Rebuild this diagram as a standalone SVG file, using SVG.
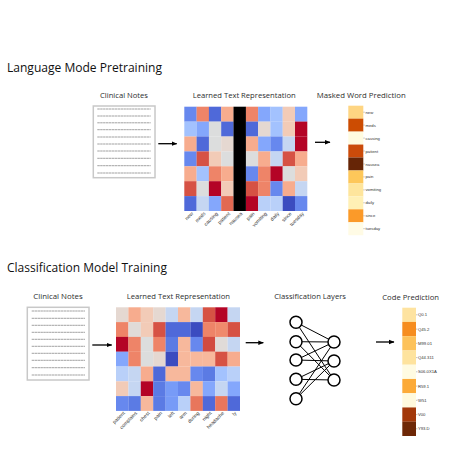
<svg xmlns="http://www.w3.org/2000/svg" width="474" height="474" viewBox="0 0 474 474">
<style>
.title{font-family:"Open Sans","Liberation Sans",sans-serif;font-size:13.5px;fill:#111}
.hdr{font-family:"Open Sans","Liberation Sans",sans-serif;font-size:7.5px;fill:#2e2e2e}
.tick{font-family:"Liberation Sans",Arial,sans-serif;font-size:5px;fill:#333}
.bl{font-family:"Liberation Sans",Arial,sans-serif;font-size:4.2px;fill:#333}
.box{fill:#fff;stroke:#c8c8c8;stroke-width:1.5}
.ln{stroke:#7a7a7a;stroke-width:0.7;stroke-dasharray:2.5 0.4}
.con{stroke:#000;stroke-width:1.3;fill:none}
.nn{fill:#fff;stroke:#000;stroke-width:1.5}
.ne{stroke:#000;stroke-width:1}
.tk{stroke:#666;stroke-width:0.4}
</style>
<defs>
<marker id="ah" markerWidth="6" markerHeight="6" refX="5" refY="3" orient="auto" markerUnits="userSpaceOnUse">
<path d="M0,0.8 L5.5,3 L0,5.2 Z" fill="#000"/>
</marker>
</defs>
<rect width="474" height="474" fill="#fff"/>

<text class="title" x="7" y="71.5" textLength="155" lengthAdjust="spacingAndGlyphs">Language Mode Pretraining</text>
<text class="title" x="7" y="272" textLength="160" lengthAdjust="spacingAndGlyphs">Classification Model Training</text>

<g id="notes1">
<text class="hdr" x="100" y="98.3" textLength="48" lengthAdjust="spacingAndGlyphs">Clinical Notes</text>
<rect class="box" x="93.3" y="106" width="61.7" height="71.7"/>
<g class="ln">
<line x1="97.3" y1="109" x2="150.7" y2="109"/><line x1="97.3" y1="116" x2="150.7" y2="116"/><line x1="97.3" y1="122.8" x2="150.7" y2="122.8"/><line x1="97.3" y1="129.7" x2="150.7" y2="129.7"/><line x1="97.3" y1="137" x2="150.7" y2="137"/><line x1="97.3" y1="144" x2="150.7" y2="144"/><line x1="97.3" y1="151" x2="150.7" y2="151"/><line x1="97.3" y1="158.3" x2="150.7" y2="158.3"/><line x1="97.3" y1="165.7" x2="150.7" y2="165.7"/><line x1="97.3" y1="173" x2="150.7" y2="173"/>
</g>
</g>

<g id="heatmap1">
<text class="hdr" x="192.7" y="98.3" textLength="103" lengthAdjust="spacingAndGlyphs">Learned Text Representation</text>
<g>
<rect x="184.3" y="106.7" width="12.4" height="15" fill="#6788ee"/><rect x="196.6" y="106.7" width="12.4" height="15" fill="#ee8468"/><rect x="208.9" y="106.7" width="12.4" height="15" fill="#4f69d9"/><rect x="221.2" y="106.7" width="12.4" height="15" fill="#f7ac8e"/><rect x="245.8" y="106.7" width="12.4" height="15" fill="#ee8468"/><rect x="258.1" y="106.7" width="12.4" height="15" fill="#84a7fc"/><rect x="270.4" y="106.7" width="12.4" height="15" fill="#a3c2fe"/><rect x="282.7" y="106.7" width="12.4" height="15" fill="#f2cbb7"/><rect x="295" y="106.7" width="12.3" height="15" fill="#84a7fc"/>
<rect x="184.3" y="121.6" width="12.4" height="15" fill="#a3c2fe"/><rect x="196.6" y="121.6" width="12.4" height="15" fill="#84a7fc"/><rect x="208.9" y="121.6" width="12.4" height="15" fill="#dcdddd"/><rect x="221.2" y="121.6" width="12.4" height="15" fill="#4f69d9"/><rect x="245.8" y="121.6" width="12.4" height="15" fill="#4f69d9"/><rect x="258.1" y="121.6" width="12.4" height="15" fill="#e5d8d1"/><rect x="270.4" y="121.6" width="12.4" height="15" fill="#a3c2fe"/><rect x="282.7" y="121.6" width="12.4" height="15" fill="#f2cbb7"/><rect x="295" y="121.6" width="12.3" height="15" fill="#b40426"/>
<rect x="184.3" y="136.5" width="12.4" height="15" fill="#f7ac8e"/><rect x="196.6" y="136.5" width="12.4" height="15" fill="#4f69d9"/><rect x="208.9" y="136.5" width="12.4" height="15" fill="#dcdddd"/><rect x="221.2" y="136.5" width="12.4" height="15" fill="#e5d8d1"/><rect x="245.8" y="136.5" width="12.4" height="15" fill="#f7ac8e"/><rect x="258.1" y="136.5" width="12.4" height="15" fill="#84a7fc"/><rect x="270.4" y="136.5" width="12.4" height="15" fill="#6788ee"/><rect x="282.7" y="136.5" width="12.4" height="15" fill="#c5d6f2"/><rect x="295" y="136.5" width="12.3" height="15" fill="#b40426"/>
<rect x="184.3" y="151.4" width="12.4" height="15" fill="#6788ee"/><rect x="196.6" y="151.4" width="12.4" height="15" fill="#d65244"/><rect x="208.9" y="151.4" width="12.4" height="15" fill="#f2cbb7"/><rect x="221.2" y="151.4" width="12.4" height="15" fill="#dcdddd"/><rect x="245.8" y="151.4" width="12.4" height="15" fill="#dcdddd"/><rect x="258.1" y="151.4" width="12.4" height="15" fill="#f7ac8e"/><rect x="270.4" y="151.4" width="12.4" height="15" fill="#c5d6f2"/><rect x="282.7" y="151.4" width="12.4" height="15" fill="#d65244"/><rect x="295" y="151.4" width="12.3" height="15" fill="#f7ac8e"/>
<rect x="184.3" y="166.3" width="12.4" height="15" fill="#f7ac8e"/><rect x="196.6" y="166.3" width="12.4" height="15" fill="#a3c2fe"/><rect x="208.9" y="166.3" width="12.4" height="15" fill="#ee8468"/><rect x="221.2" y="166.3" width="12.4" height="15" fill="#f7ac8e"/><rect x="245.8" y="166.3" width="12.4" height="15" fill="#6788ee"/><rect x="258.1" y="166.3" width="12.4" height="15" fill="#ee8468"/><rect x="270.4" y="166.3" width="12.4" height="15" fill="#b40426"/><rect x="282.7" y="166.3" width="12.4" height="15" fill="#dcdddd"/><rect x="295" y="166.3" width="12.3" height="15" fill="#f2cbb7"/>
<rect x="184.3" y="181.2" width="12.4" height="15" fill="#d65244"/><rect x="196.6" y="181.2" width="12.4" height="15" fill="#dcdddd"/><rect x="208.9" y="181.2" width="12.4" height="15" fill="#b40426"/><rect x="221.2" y="181.2" width="12.4" height="15" fill="#f2cbb7"/><rect x="245.8" y="181.2" width="12.4" height="15" fill="#d65244"/><rect x="258.1" y="181.2" width="12.4" height="15" fill="#ee8468"/><rect x="270.4" y="181.2" width="12.4" height="15" fill="#6788ee"/><rect x="282.7" y="181.2" width="12.4" height="15" fill="#f7ac8e"/><rect x="295" y="181.2" width="12.3" height="15" fill="#c5d6f2"/>
<rect x="184.3" y="196.1" width="12.4" height="14.9" fill="#4f69d9"/><rect x="196.6" y="196.1" width="12.4" height="14.9" fill="#c5d6f2"/><rect x="208.9" y="196.1" width="12.4" height="14.9" fill="#84a7fc"/><rect x="221.2" y="196.1" width="12.4" height="14.9" fill="#e26952"/><rect x="245.8" y="196.1" width="12.4" height="14.9" fill="#b40426"/><rect x="258.1" y="196.1" width="12.4" height="14.9" fill="#b9d0f9"/><rect x="270.4" y="196.1" width="12.4" height="14.9" fill="#b9d0f9"/><rect x="282.7" y="196.1" width="12.4" height="14.9" fill="#3b4cc0"/><rect x="295" y="196.1" width="12.3" height="14.9" fill="#6788ee"/>
<rect x="233.5" y="106.7" width="12.4" height="104.3" fill="#000"/>
</g>
<g class="tick" text-anchor="end">
<text transform="translate(193.5,214) rotate(-45)">new</text>
<text transform="translate(205.8,214) rotate(-45)">meds</text>
<text transform="translate(218.1,214) rotate(-45)">causing</text>
<text transform="translate(230.4,214) rotate(-45)">patient</text>
<text transform="translate(242.7,214) rotate(-45)">nausea</text>
<text transform="translate(255,214) rotate(-45)">pain</text>
<text transform="translate(267.3,214) rotate(-45)">vomiting</text>
<text transform="translate(279.6,214) rotate(-45)">daily</text>
<text transform="translate(291.9,214) rotate(-45)">since</text>
<text transform="translate(304.2,214) rotate(-45)">tuesday</text>
</g>
</g>

<g id="masked">
<text class="hdr" x="316.7" y="98.3" textLength="89" lengthAdjust="spacingAndGlyphs">Masked Word Prediction</text>
<rect x="348.3" y="105.7" width="15" height="13" fill="#fed582"/>
<rect x="348.3" y="118.65" width="15" height="13" fill="#cc4c02"/>
<rect x="348.3" y="131.6" width="15" height="13" fill="#fffbe0"/>
<rect x="348.3" y="144.55" width="15" height="13" fill="#cb4b0a"/>
<rect x="348.3" y="157.5" width="15" height="13" fill="#662506"/>
<rect x="348.3" y="170.45" width="15" height="13" fill="#fdc75a"/>
<rect x="348.3" y="183.4" width="15" height="13" fill="#fee59c"/>
<rect x="348.3" y="196.35" width="15" height="13" fill="#fff0b5"/>
<rect x="348.3" y="209.3" width="15" height="13" fill="#fb9a29"/>
<rect x="348.3" y="222.25" width="15" height="13" fill="#fffbe5"/>
<g class="tk">
<line x1="363.3" y1="112.2" x2="364.8" y2="112.2"/><line x1="363.3" y1="125.1" x2="364.8" y2="125.1"/><line x1="363.3" y1="138.1" x2="364.8" y2="138.1"/><line x1="363.3" y1="151" x2="364.8" y2="151"/><line x1="363.3" y1="164" x2="364.8" y2="164"/><line x1="363.3" y1="176.9" x2="364.8" y2="176.9"/><line x1="363.3" y1="189.9" x2="364.8" y2="189.9"/><line x1="363.3" y1="202.8" x2="364.8" y2="202.8"/><line x1="363.3" y1="215.8" x2="364.8" y2="215.8"/><line x1="363.3" y1="228.7" x2="364.8" y2="228.7"/>
</g>
<g class="bl">
<text x="365.5" y="113.7">new</text>
<text x="365.5" y="126.6">meds</text>
<text x="365.5" y="139.6">causing</text>
<text x="365.5" y="152.5">patient</text>
<text x="365.5" y="165.5">nausea</text>
<text x="365.5" y="178.4">pain</text>
<text x="365.5" y="191.4">vomiting</text>
<text x="365.5" y="204.3">daily</text>
<text x="365.5" y="217.3">since</text>
<text x="365.5" y="230.2">tuesday</text>
</g>
</g>

<g id="notes2">
<text class="hdr" x="33.3" y="299.3" textLength="49.4" lengthAdjust="spacingAndGlyphs">Clinical Notes</text>
<rect class="box" x="27.3" y="307.3" width="61.7" height="72.7"/>
<g class="ln">
<line x1="31.7" y1="311" x2="85" y2="311"/><line x1="31.7" y1="318.3" x2="85" y2="318.3"/><line x1="31.7" y1="325.3" x2="85" y2="325.3"/><line x1="31.7" y1="332.3" x2="85" y2="332.3"/><line x1="31.7" y1="339.3" x2="85" y2="339.3"/><line x1="31.7" y1="346.3" x2="85" y2="346.3"/><line x1="31.7" y1="353.3" x2="85" y2="353.3"/><line x1="31.7" y1="360.3" x2="85" y2="360.3"/><line x1="31.7" y1="367.7" x2="85" y2="367.7"/><line x1="31.7" y1="375" x2="85" y2="375"/>
</g>
</g>

<g id="heatmap2">
<text class="hdr" x="126.7" y="299.3" textLength="103.3" lengthAdjust="spacingAndGlyphs">Learned Text Representation</text>
<g>
<rect x="116" y="307.3" width="12.5" height="14.9" fill="#e5d8d1"/><rect x="128.4" y="307.3" width="12.5" height="14.9" fill="#f7ac8e"/><rect x="140.8" y="307.3" width="12.5" height="14.9" fill="#f2cbb7"/><rect x="153.2" y="307.3" width="12.5" height="14.9" fill="#e5d8d1"/><rect x="165.6" y="307.3" width="12.5" height="14.9" fill="#c5d6f2"/><rect x="178" y="307.3" width="12.5" height="14.9" fill="#f7b89c"/><rect x="190.4" y="307.3" width="12.5" height="14.9" fill="#c5d6f2"/><rect x="202.8" y="307.3" width="12.5" height="14.9" fill="#d65244"/><rect x="215.2" y="307.3" width="12.5" height="14.9" fill="#b40426"/><rect x="227.6" y="307.3" width="12.4" height="14.9" fill="#c5d6f2"/>
<rect x="116" y="322.1" width="12.5" height="14.9" fill="#ee8468"/><rect x="128.4" y="322.1" width="12.5" height="14.9" fill="#e0dbd8"/><rect x="140.8" y="322.1" width="12.5" height="14.9" fill="#f2cbb7"/><rect x="153.2" y="322.1" width="12.5" height="14.9" fill="#d65244"/><rect x="165.6" y="322.1" width="12.5" height="14.9" fill="#4f69d9"/><rect x="178" y="322.1" width="12.5" height="14.9" fill="#4f69d9"/><rect x="190.4" y="322.1" width="12.5" height="14.9" fill="#3b4cc0"/><rect x="202.8" y="322.1" width="12.5" height="14.9" fill="#ee8468"/><rect x="215.2" y="322.1" width="12.5" height="14.9" fill="#f08a6c"/><rect x="227.6" y="322.1" width="12.4" height="14.9" fill="#d65244"/>
<rect x="116" y="336.9" width="12.5" height="14.9" fill="#b40426"/><rect x="128.4" y="336.9" width="12.5" height="14.9" fill="#ee8468"/><rect x="140.8" y="336.9" width="12.5" height="14.9" fill="#dcdddd"/><rect x="153.2" y="336.9" width="12.5" height="14.9" fill="#ee8468"/><rect x="165.6" y="336.9" width="12.5" height="14.9" fill="#5b7be4"/><rect x="178" y="336.9" width="12.5" height="14.9" fill="#f7b89c"/><rect x="190.4" y="336.9" width="12.5" height="14.9" fill="#6788ee"/><rect x="202.8" y="336.9" width="12.5" height="14.9" fill="#d24b40"/><rect x="215.2" y="336.9" width="12.5" height="14.9" fill="#e0dbd8"/><rect x="227.6" y="336.9" width="12.4" height="14.9" fill="#c5d6f2"/>
<rect x="116" y="351.7" width="12.5" height="14.9" fill="#84a7fc"/><rect x="128.4" y="351.7" width="12.5" height="14.9" fill="#ee8468"/><rect x="140.8" y="351.7" width="12.5" height="14.9" fill="#dcdddd"/><rect x="153.2" y="351.7" width="12.5" height="14.9" fill="#e5d8d1"/><rect x="165.6" y="351.7" width="12.5" height="14.9" fill="#3b4cc0"/><rect x="178" y="351.7" width="12.5" height="14.9" fill="#f7b89c"/><rect x="190.4" y="351.7" width="12.5" height="14.9" fill="#f7b89c"/><rect x="202.8" y="351.7" width="12.5" height="14.9" fill="#f7b89c"/><rect x="215.2" y="351.7" width="12.5" height="14.9" fill="#d65244"/><rect x="227.6" y="351.7" width="12.4" height="14.9" fill="#f7ac8e"/>
<rect x="116" y="366.5" width="12.5" height="14.9" fill="#b9d0f9"/><rect x="128.4" y="366.5" width="12.5" height="14.9" fill="#c5d6f2"/><rect x="140.8" y="366.5" width="12.5" height="14.9" fill="#f7ac8e"/><rect x="153.2" y="366.5" width="12.5" height="14.9" fill="#4f69d9"/><rect x="165.6" y="366.5" width="12.5" height="14.9" fill="#f7b89c"/><rect x="178" y="366.5" width="12.5" height="14.9" fill="#f7b89c"/><rect x="190.4" y="366.5" width="12.5" height="14.9" fill="#6788ee"/><rect x="202.8" y="366.5" width="12.5" height="14.9" fill="#5b7be4"/><rect x="215.2" y="366.5" width="12.5" height="14.9" fill="#a3c2fe"/><rect x="227.6" y="366.5" width="12.4" height="14.9" fill="#b9d0f9"/>
<rect x="116" y="381.3" width="12.5" height="14.9" fill="#f2cbb7"/><rect x="128.4" y="381.3" width="12.5" height="14.9" fill="#c5d6f2"/><rect x="140.8" y="381.3" width="12.5" height="14.9" fill="#b40426"/><rect x="153.2" y="381.3" width="12.5" height="14.9" fill="#5b7be4"/><rect x="165.6" y="381.3" width="12.5" height="14.9" fill="#779bf7"/><rect x="178" y="381.3" width="12.5" height="14.9" fill="#6788ee"/><rect x="190.4" y="381.3" width="12.5" height="14.9" fill="#f7b89c"/><rect x="202.8" y="381.3" width="12.5" height="14.9" fill="#84a7fc"/><rect x="215.2" y="381.3" width="12.5" height="14.9" fill="#c5d6f2"/><rect x="227.6" y="381.3" width="12.4" height="14.9" fill="#84a7fc"/>
<rect x="116" y="396.1" width="12.5" height="14.8" fill="#6788ee"/><rect x="128.4" y="396.1" width="12.5" height="14.8" fill="#5b7be4"/><rect x="140.8" y="396.1" width="12.5" height="14.8" fill="#f7b89c"/><rect x="153.2" y="396.1" width="12.5" height="14.8" fill="#5b7be4"/><rect x="165.6" y="396.1" width="12.5" height="14.8" fill="#779bf7"/><rect x="178" y="396.1" width="12.5" height="14.8" fill="#b9d0f9"/><rect x="190.4" y="396.1" width="12.5" height="14.8" fill="#e8765c"/><rect x="202.8" y="396.1" width="12.5" height="14.8" fill="#4f69d9"/><rect x="215.2" y="396.1" width="12.5" height="14.8" fill="#e8765c"/><rect x="227.6" y="396.1" width="12.4" height="14.8" fill="#4f69d9"/>
</g>
<g class="tick" text-anchor="end">
<text transform="translate(125.2,413.5) rotate(-45)">patient</text>
<text transform="translate(137.6,413.5) rotate(-45)">complains</text>
<text transform="translate(150,413.5) rotate(-45)">chest</text>
<text transform="translate(162.4,413.5) rotate(-45)">pain</text>
<text transform="translate(174.8,413.5) rotate(-45)">left</text>
<text transform="translate(187.2,413.5) rotate(-45)">arm</text>
<text transform="translate(199.6,413.5) rotate(-45)">during</text>
<text transform="translate(212,413.5) rotate(-45)">night</text>
<text transform="translate(224.4,413.5) rotate(-45)">headache</text>
<text transform="translate(236.8,413.5) rotate(-45)">ly</text>
</g>
</g>

<g id="layers">
<text class="hdr" x="274.3" y="299.3" textLength="71.7" lengthAdjust="spacingAndGlyphs">Classification Layers</text>
<g class="ne">
<line x1="296" y1="322.3" x2="334" y2="342"/><line x1="296" y1="322.3" x2="334" y2="380"/>
<line x1="296" y1="341.7" x2="334" y2="342"/><line x1="296" y1="341.7" x2="334" y2="380"/>
<line x1="296" y1="360" x2="334" y2="342"/><line x1="296" y1="360" x2="334" y2="361"/>
<line x1="296" y1="379.3" x2="334" y2="361"/><line x1="296" y1="379.3" x2="334" y2="380"/>
<line x1="296" y1="398.7" x2="334" y2="361"/><line x1="296" y1="398.7" x2="334" y2="342"/>
</g>
<g class="nn">
<circle cx="296" cy="322.3" r="6"/><circle cx="296" cy="341.7" r="6"/><circle cx="296" cy="360" r="6"/><circle cx="296" cy="379.3" r="6"/><circle cx="296" cy="398.7" r="6"/>
<circle cx="334" cy="342" r="6"/><circle cx="334" cy="361" r="6"/><circle cx="334" cy="380" r="6"/>
</g>
</g>

<g id="codes">
<text class="hdr" x="382.3" y="300" textLength="56.7" lengthAdjust="spacingAndGlyphs">Code Prediction</text>
<rect x="402.3" y="307.7" width="13.7" height="14.3" fill="#fee3a0"/>
<rect x="402.3" y="321.95" width="13.7" height="14.3" fill="#f68d1f"/>
<rect x="402.3" y="336.2" width="13.7" height="14.3" fill="#fdc25a"/>
<rect x="402.3" y="350.45" width="13.7" height="14.3" fill="#fee39e"/>
<rect x="402.3" y="364.7" width="13.7" height="14.3" fill="#fffbe2"/>
<rect x="402.3" y="378.95" width="13.7" height="14.3" fill="#fcaa38"/>
<rect x="402.3" y="393.2" width="13.7" height="14.3" fill="#fff9dd"/>
<rect x="402.3" y="407.45" width="13.7" height="14.3" fill="#a3380a"/>
<rect x="402.3" y="421.7" width="13.7" height="14.3" fill="#6e2807"/>
<g class="tk">
<line x1="416" y1="314.8" x2="417.5" y2="314.8"/><line x1="416" y1="329.1" x2="417.5" y2="329.1"/><line x1="416" y1="343.3" x2="417.5" y2="343.3"/><line x1="416" y1="357.6" x2="417.5" y2="357.6"/><line x1="416" y1="371.8" x2="417.5" y2="371.8"/><line x1="416" y1="386.1" x2="417.5" y2="386.1"/><line x1="416" y1="400.3" x2="417.5" y2="400.3"/><line x1="416" y1="414.6" x2="417.5" y2="414.6"/><line x1="416" y1="428.8" x2="417.5" y2="428.8"/>
</g>
<g class="bl">
<text x="418" y="316.3">Q0.1</text>
<text x="418" y="330.6">Q45.2</text>
<text x="418" y="344.8">M99.01</text>
<text x="418" y="359.1">Q44.311</text>
<text x="418" y="373.3">S06.0X1A</text>
<text x="418" y="387.6">R59.1</text>
<text x="418" y="401.8">W51</text>
<text x="418" y="416.1">V00</text>
<text x="418" y="430.3">Y93.D</text>
</g>
</g>

<g id="connectors">
<line class="con" x1="158.3" y1="143.7" x2="176.7" y2="143.7" marker-end="url(#ah)"/>
<line class="con" x1="315" y1="142.3" x2="330" y2="142.3" marker-end="url(#ah)"/>
<line class="con" x1="92.3" y1="345" x2="111.7" y2="345" marker-end="url(#ah)"/>
<line class="con" x1="245.7" y1="342.7" x2="263.3" y2="342.7" marker-end="url(#ah)"/>
<line class="con" x1="376" y1="342" x2="394" y2="342" marker-end="url(#ah)"/>
</g>
</svg>
